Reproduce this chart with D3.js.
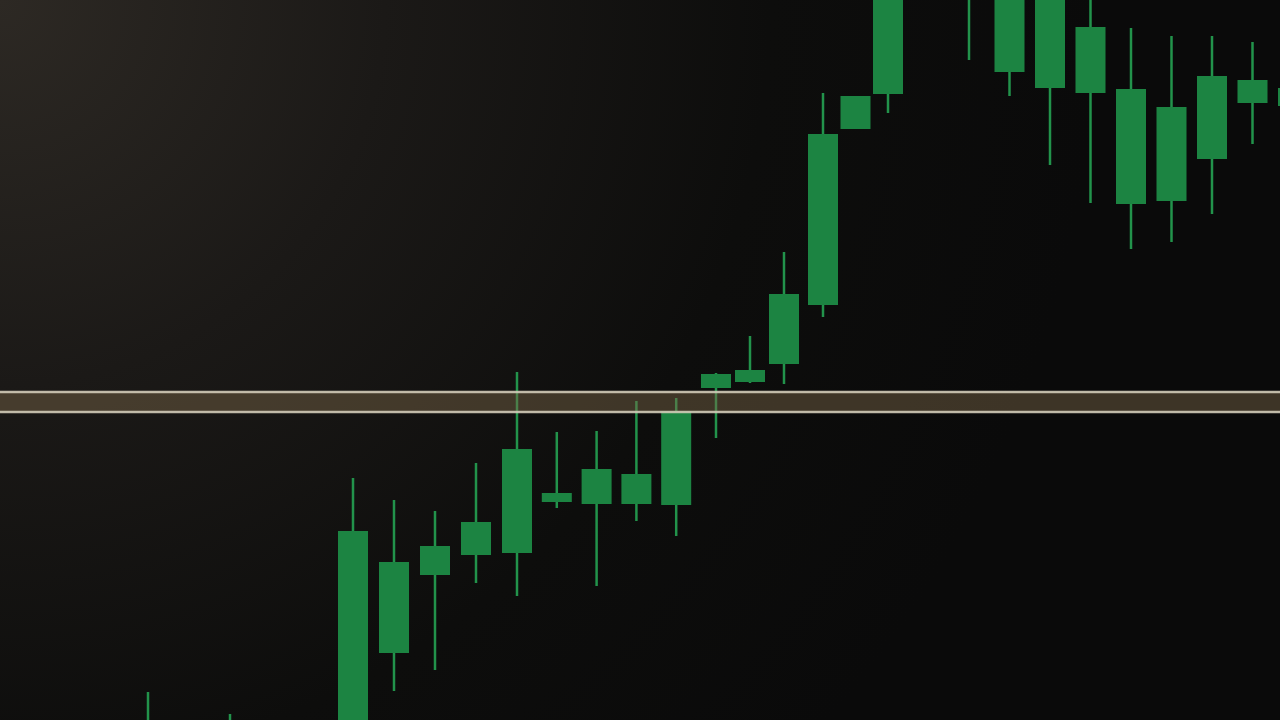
<!DOCTYPE html>
<html><head><meta charset="utf-8">
<script src="https://cdn.jsdelivr.net/npm/d3@7"></script>
<style>html,body{margin:0;padding:0;background:#0b0b0b;overflow:hidden}</style>
</head><body>
<svg id="chart" width="1280" height="720"></svg>
<script>
// Candle index (session number)
const sessions = d3.range(0, 30);
// OHLC values (price units)
const opens  = [98.5, 97.8, 98.6, 98.8, 99.0, 99.5, 103.35, 107.25, 108.25, 108.35, 110.9, 110.8, 110.8, 110.75, 116.6, 116.9, 117.8, 120.75, 129.55, 131.3, 136.5, 136.5, 132.4, 131.6, 131.35, 125.8, 125.95, 128.05, 130.85, 130.7];
const highs  = [101.4, 99.5, 100.3, 99.8, 99.9, 112.1, 111.0, 110.45, 112.85, 117.4, 114.4, 114.45, 115.95, 116.1, 117.35, 119.2, 123.4, 131.35, 131.2, 138.0, 140.0, 139.0, 138.0, 138.0, 136.5, 134.6, 134.2, 134.2, 133.9, 133.5];
const lows   = [98.0, 97.2, 98.2, 98.3, 98.5, 99.0, 101.45, 102.5, 106.85, 106.2, 110.6, 106.7, 109.95, 109.2, 114.1, 116.85, 116.8, 120.15, 129.55, 130.35, 136.2, 133.0, 131.2, 127.75, 125.85, 123.55, 123.9, 125.3, 128.8, 129.5];
const closes = [99.6, 98.9, 99.4, 99.3, 99.7, 109.45, 107.9, 108.7, 109.9, 113.55, 111.35, 112.55, 112.3, 115.45, 117.3, 117.5, 121.3, 129.3, 131.2, 137.5, 139.0, 138.0, 137.0, 137.2, 134.65, 131.55, 130.65, 132.2, 132.0, 131.6];
// Support/resistance zone (price)
const zoneTop = 116.4;
const zoneBottom = 115.4;

const candles = sessions.map((s, i) => ({s, o: opens[i], h: highs[i], l: lows[i], c: closes[i]}));

const W = 1280, H = 720;
const svg = d3.select("#chart");

// background gradient
const defs = svg.append("defs");
const rg = defs.append("radialGradient").attr("id", "bg")
  .attr("gradientUnits", "userSpaceOnUse").attr("cx", 0).attr("cy", 0).attr("r", 1100);
rg.append("stop").attr("offset", "0%").attr("stop-color", "#2d2924");
rg.append("stop").attr("offset", "35%").attr("stop-color", "#1b1917");
rg.append("stop").attr("offset", "70%").attr("stop-color", "#0d0d0c");
rg.append("stop").attr("offset", "100%").attr("stop-color", "#0a0a0a");
svg.append("rect").attr("width", W).attr("height", H).attr("fill", "url(#bg)");

// scales (slightly non-uniform spacing as in the photographed screen)
const x = d3.scaleLinear()
  .domain([0, 5, 9, 14, 16, 17, 19, 29])
  .range([148, 353, 517, 716, 784, 823, 888, 1293]);
const y = d3.scaleLinear().domain([100, 136]).range([720, 0]);

const bodyW = 30;
const g = svg.append("g");

// wicks
g.selectAll("line.wick").data(candles).join("line")
  .attr("class", "wick")
  .attr("x1", d => x(d.s)).attr("x2", d => x(d.s))
  .attr("y1", d => y(d.h)).attr("y2", d => y(d.l))
  .attr("stroke", "#22934b").attr("stroke-width", 2.5);

// bodies
g.selectAll("rect.body").data(candles).join("rect")
  .attr("class", "body")
  .attr("x", d => x(d.s) - bodyW / 2)
  .attr("width", bodyW)
  .attr("y", d => y(Math.max(d.o, d.c)))
  .attr("height", d => Math.max(2, y(Math.min(d.o, d.c)) - y(Math.max(d.o, d.c))))
  .attr("fill", "#1c8442");

// zone
svg.append("rect")
  .attr("x", 0).attr("width", W)
  .attr("y", y(zoneTop)).attr("height", y(zoneBottom) - y(zoneTop))
  .attr("fill", "rgba(125,104,74,0.45)");
[zoneTop, zoneBottom].forEach(p => {
  svg.append("line")
    .attr("x1", 0).attr("x2", W)
    .attr("y1", y(p)).attr("y2", y(p))
    .attr("stroke", "#d2cbb8").attr("stroke-width", 2.5).attr("opacity", 0.9);
});
</script>
</body></html>
